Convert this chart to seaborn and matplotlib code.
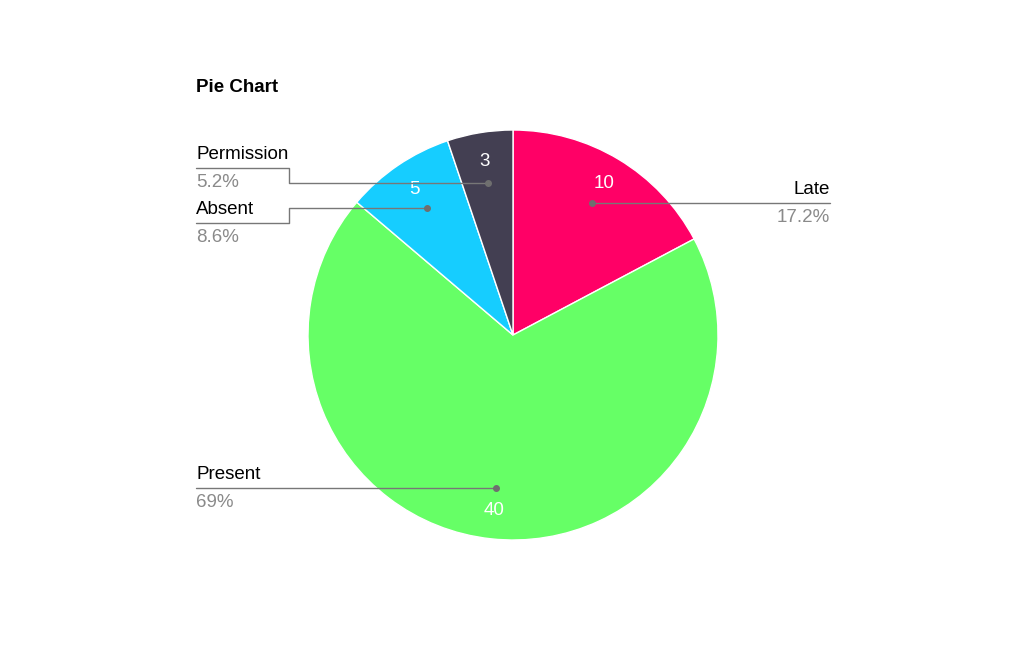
import numpy as np
import matplotlib
matplotlib.use("Agg")
import matplotlib.pyplot as plt
import seaborn as sns

# data
labels = ["Late", "Present", "Absent", "Permission"]
values = [10, 40, 5, 3]
colors = ["#FF0066", "#66FF66", "#16CDFF", "#433F52"]

sns.set_style("white")
plt.rcParams["font.family"] = ["Liberation Sans", "DejaVu Sans"]

FS = 13.5
W, H = 1024, 666
fig = plt.figure(figsize=(W / 100, H / 100), dpi=100)
ax = fig.add_axes([0, 0, 1, 1])

cx, cy, R = 513, H - 335, 205

wedges, _, autotexts = ax.pie(
    values, colors=colors, startangle=90, counterclock=False,
    center=(cx, cy), radius=R, frame=True,
    autopct=lambda p: f"{round(p * sum(values) / 100):d}", pctdistance=0.86,
    wedgeprops=dict(edgecolor="white", linewidth=1),
    textprops=dict(color="white", fontsize=FS),
)
ax.set_xlim(0, W)
ax.set_ylim(0, H)
ax.set_aspect("equal")
ax.axis("off")

total = sum(values)
pcts = [v / total * 100 for v in values]

def fmt(p):
    s = f"{p:.1f}".rstrip("0").rstrip(".")
    return s + "%"

# anchor dots at 0.75 R along each wedge's mid angle
anchors = {}
for w, lab in zip(wedges, labels):
    mid = np.deg2rad((w.theta1 + w.theta2) / 2)
    anchors[lab] = (cx + 0.75 * R * np.cos(mid), cy + 0.75 * R * np.sin(mid))

line_kw = dict(color="#777777", lw=1, zorder=5)
gray = "#8a8a8a"

def y(p):
    return H - p

def two_line(xp, yl, name, pct, ha):
    ax.text(xp, yl + 5, name, ha=ha, va="bottom", fontsize=FS, color="black")
    ax.text(xp, yl - 6, pct, ha=ha, va="top", fontsize=FS, color=gray)

# Late: right side
lx, ly = anchors["Late"]
ax.plot([lx, 830], [ly, ly], **line_kw)
two_line(830, ly, labels[0], fmt(pcts[0]), "right")

# Present: left, straight
px, py = anchors["Present"]
ax.plot([196, px], [py, py], **line_kw)
two_line(196, py, labels[1], fmt(pcts[1]), "left")

# Absent: left, elbow
bx, by = anchors["Absent"]
yb = y(223)
ax.plot([196, 289, 289, bx], [yb, yb, by, by], **line_kw)
two_line(196, yb, labels[2], fmt(pcts[2]), "left")

# Permission: left, elbow
qx, qy = anchors["Permission"]
yq = y(168)
ax.plot([196, 289, 289, qx], [yq, yq, qy, qy], **line_kw)
two_line(196, yq, labels[3], fmt(pcts[3]), "left")

for lab in labels:
    ax.plot(*anchors[lab], "o", color="#6f6f6f", ms=4, zorder=6)

ax.text(196, y(88), "Pie Chart", ha="left", va="center", fontsize=FS,
        fontweight="bold", color="black")

fig.savefig("out.png", dpi=100)
